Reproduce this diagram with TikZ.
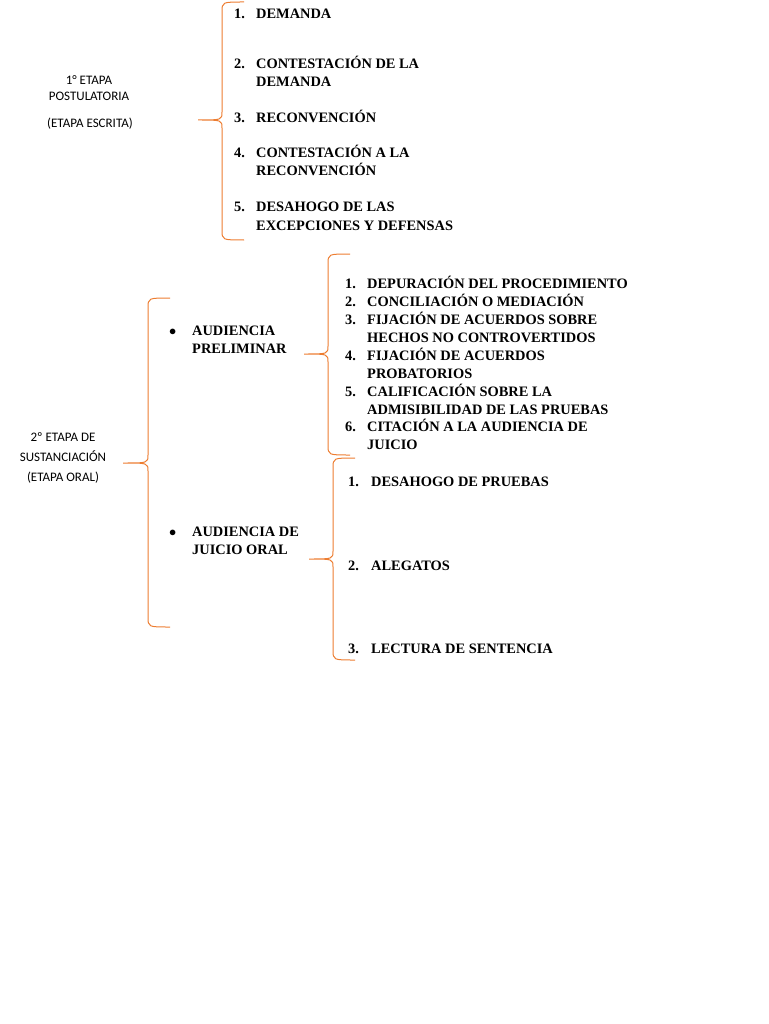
\documentclass[tikz,border=0pt]{standalone}
\usepackage{fontspec}
\setmainfont{Liberation Serif}
\newfontfamily\lab{Carlito}
\definecolor{br}{RGB}{237,125,49}
\tikzset{
 it/.style={anchor=base west,font=\fontsize{14.4}{18}\selectfont\bfseries,inner sep=0pt},
 lb/.style={font=\lab\fontsize{13}{20}\selectfont,inner sep=0pt,align=center},
 brc/.style={draw=br,line width=1pt}
}
\newcommand{\tl}[1]{\begin{tabular}[t]{@{}l@{}}#1\end{tabular}}
\newcommand{\curlyb}[5]{% x, top, mid, bot, tip
 \draw[brc] (#1+22,#2) .. controls (#1,#2) .. (#1,#2+10) -- (#1,#3-8) .. controls (#1,#3) .. (#5,#3) .. controls (#1,#3) .. (#1,#3+8) -- (#1,#4-10) .. controls (#1,#4) .. (#1+22,#4);}
\begin{document}
\begin{tikzpicture}[x=1pt,y=-1pt]
\renewcommand{\arraystretch}{1}
\useasboundingbox (0,0) rectangle (768,1024);
\curlyb{222}{2}{120}{240}{198}
\curlyb{148}{298}{463}{627}{123}
\curlyb{328}{254}{354}{455}{304}
\curlyb{333}{458}{559}{660}{309}
\node[lb] (l1) at (89,88) {1° ETAPA\\[-4pt]POSTULATORIA};
\node[lb] (l1b) at (90,124) {(ETAPA ESCRITA)};
\node[lb] (l2) at (63,458) {2º ETAPA DE\\SUSTANCIACIÓN\\(ETAPA ORAL)};
% list 1
\foreach \n/\y/\t in {1/19/DEMANDA,2/69/{CONTESTACIÓN DE LA\\DEMANDA},3/123/RECONVENCIÓN,4/158/{CONTESTACIÓN A LA\\RECONVENCIÓN},5/212/{DESAHOGO DE LAS\\EXCEPCIONES Y DEFENSAS}}{
 \node[it] (a\n) at (234,\y) {\n.};
 \node[it] (at\n) at (256,\y) {\tl{\t}};}
% list 2
\foreach \n/\y/\t in {1/288/DEPURACIÓN DEL PROCEDIMIENTO,2/306/CONCILIACIÓN O MEDIACIÓN,3/324/{FIJACIÓN DE ACUERDOS SOBRE\\HECHOS NO CONTROVERTIDOS},4/360/{FIJACIÓN DE ACUERDOS\\PROBATORIOS},5/396/{CALIFICACIÓN SOBRE LA\\ADMISIBILIDAD DE LAS PRUEBAS},6/431/{CITACIÓN A LA AUDIENCIA DE\\JUICIO}}{
 \node[it] (b\n) at (345,\y) {\n.};
 \node[it] (bt\n) at (367,\y) {\tl{\t}};}
% audiencias
\node[it] (c1) at (169,335) {$\bullet$};
\node[it] (ct1) at (192,335) {\tl{AUDIENCIA\\PRELIMINAR}};
\node[it] (c2) at (169,536) {$\bullet$};
\node[it] (ct2) at (192,536) {\tl{AUDIENCIA DE\\JUICIO ORAL}};
% list 4
\foreach \n/\y/\t in {1/486/DESAHOGO DE PRUEBAS,2/570/ALEGATOS,3/653/LECTURA DE SENTENCIA}{
 \node[it] (d\n) at (348,\y) {\n.};
 \node[it] (dt\n) at (371,\y) {\t};}
\end{tikzpicture}
\end{document}
